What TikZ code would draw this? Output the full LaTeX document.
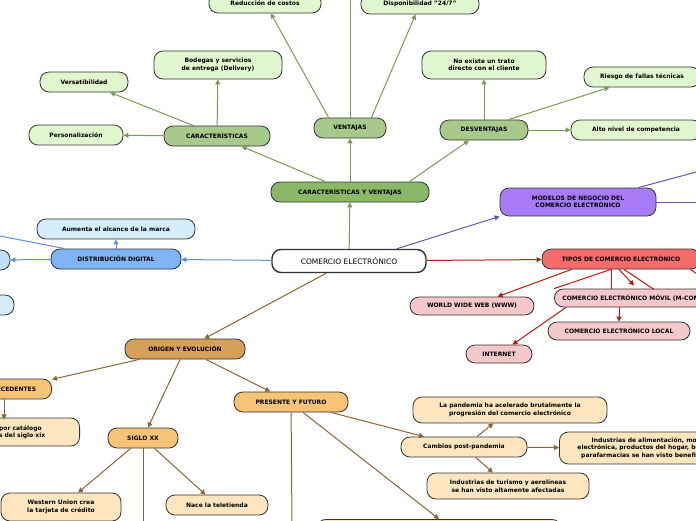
\documentclass[tikz,border=0pt]{standalone}
\usepackage{fontspec}
\setmainfont{DejaVu Sans}
\usetikzlibrary{arrows.meta}
\begin{document}
\begin{tikzpicture}[x=1pt,y=-1pt,
 n/.style={draw=black!80,line width=0.8pt,rounded corners=9pt,align=center,font=\fontsize{6}{7.5}\selectfont\bfseries,inner sep=0pt},
 g1/.style={n,fill={rgb,255:red,224;green,246;blue,207}},
 g2/.style={n,fill={rgb,255:red,168;green,201;blue,140}},
 g3/.style={n,fill={rgb,255:red,138;green,184;blue,102}},
 b1/.style={n,fill={rgb,255:red,213;green,236;blue,251}},
 b2/.style={n,fill={rgb,255:red,127;green,181;blue,245}},
 pu/.style={n,fill={rgb,255:red,167;green,123;blue,245}},
 r1/.style={n,fill={rgb,255:red,247;green,107;blue,107}},
 r2/.style={n,fill={rgb,255:red,244;green,200;blue,203}},
 o1/.style={n,fill={rgb,255:red,212;green,160;blue,90}},
 o2/.style={n,fill={rgb,255:red,247;green,196;blue,119}},
 o3/.style={n,fill={rgb,255:red,253;green,230;blue,191}},
 eg/.style={draw={rgb,255:red,122;green,154;blue,85},line width=1pt,-{Triangle[length=5pt,width=5pt]}},
 eb/.style={eg,draw={rgb,255:red,91;green,143;blue,220}},
 ep/.style={eg,draw={rgb,255:red,106;green,85;blue,176}},
 er/.style={eg,draw={rgb,255:red,192;green,24;blue,15}},
 eo/.style={eg,draw={rgb,255:red,138;green,101;blue,53}}]
\useasboundingbox (0,0) rectangle (696,520);
\clip (0,0) rectangle (696,520);
% green
\node[g1,minimum width=112pt,minimum height=20pt] (red) at (265,3) {Reducción de costos};
\node[g1,minimum width=118pt,minimum height=20pt] (disp) at (420,4) {Disponibilidad "24/7"};
\node[g1,minimum width=128pt,minimum height=28pt] (bod) at (218,65) {Bodegas y servicios\\de entrega (Delivery)};
\node[g1,minimum width=88pt,minimum height=20pt] (ver) at (84,82) {Versatibilidad};
\node[g1,minimum width=94pt,minimum height=20pt] (per) at (76,135) {Personalización};
\node[g2,minimum width=106pt,minimum height=20pt] (car) at (217,136) {CARACTERÍSTICAS};
\node[g2,minimum width=72pt,minimum height=20pt] (ven) at (350,128) {VENTAJAS};
\node[g2,minimum width=88pt,minimum height=20pt] (des) at (484,130) {DESVENTAJAS};
\node[g1,minimum width=124pt,minimum height=28pt] (noe) at (484,65) {No existe un trato\\directo con el cliente};
\node[g1,minimum width=116pt,minimum height=20pt] (rie) at (642,77) {Riesgo de fallas técnicas};
\node[g1,minimum width=130pt,minimum height=20pt] (alt) at (636,130) {Alto nivel de competencia};
\node[g3,minimum width=158pt,minimum height=20pt] (cyv) at (350,192) {CARACTERÍSTICAS Y VENTAJAS};
\coordinate (top) at (350,-2);
% center
\node[n,fill=white,line width=1.4pt,minimum width=154pt,minimum height=23pt,font=\fontsize{7.5}{9}\selectfont] (ce) at (349,261) {COMERCIO ELECTRÓNICO};
% blue
\node[b1,minimum width=158pt,minimum height=20pt] (aum) at (116,229) {Aumenta el alcance de la marca};
\node[b2,minimum width=130pt,minimum height=20pt] (dis) at (116,259) {DISTRIBUCIÓN DIGITAL};
\node[n,fill={rgb,255:red,190;green,222;blue,250},minimum width=40pt,minimum height=20pt] (bl1) at (-10,260) {};
\node[b1,minimum width=60pt,minimum height=20pt] (bl2) at (-16,305) {};
\coordinate (bl3) at (0,236);
% purple
\node[pu,minimum width=156pt,minimum height=28pt] (mod) at (578,202) {MODELOS DE NEGOCIO DEL\\COMERCIO ELECTRÓNICO};
\coordinate (p1) at (700,171); \coordinate (p2) at (700,202);
% red
\node[r1,minimum width=158pt,minimum height=20pt] (tip) at (621,259) {TIPOS DE COMERCIO ELECTRÓNICO};
\node[r2,minimum width=124pt,minimum height=18pt] (www) at (472,306) {WORLD WIDE WEB (WWW)};
\node[r2,minimum width=190pt,minimum height=18pt,anchor=west,align=left,inner xsep=8pt,text width=174pt] (mov) at (554,298) {COMERCIO ELECTRÓNICO MÓVIL (M-COMMERCE)};
\node[r2,minimum width=142pt,minimum height=18pt] (loc) at (619,331) {COMERCIO ELECTRÓNICO LOCAL};
\node[r2,minimum width=66pt,minimum height=18pt] (int) at (499,354) {INTERNET};
\coordinate (r1) at (700,276);
% brown
\node[o1,minimum width=120pt,minimum height=20pt] (ori) at (185,349) {ORIGEN Y EVOLUCIÓN};
\node[o2,minimum width=84pt,minimum height=20pt,anchor=east] (ant) at (52,389) {ANTECEDENTES};
\node[o3,minimum width=140pt,minimum height=28pt,anchor=east] (cat) at (80,432) {Venta por catálogo\\a finales del siglo xix};
\node[o2,minimum width=70pt,minimum height=20pt] (s20) at (143,438) {SIGLO XX};
\node[o3,minimum width=120pt,minimum height=28pt] (wu) at (61,507) {Western Union crea\\la tarjeta de crédito};
\node[o3,minimum width=102pt,minimum height=20pt] (tel) at (217,505) {Nace la teletienda};
\node[o2,minimum width=114pt,minimum height=20pt] (pyf) at (291,402) {PRESENTE Y FUTURO};
\node[o3,minimum width=194pt,minimum height=26pt] (pan) at (510,410) {La pandemia ha acelerado brutalmente la\\progresión del comercio electrónico};
\node[o3,minimum width=126pt,minimum height=20pt] (cam) at (464,447) {Cambios post-pandemia};
\node[o3,minimum width=180pt,minimum height=32pt,anchor=west] (ind) at (559,448) {Industrias de alimentación, moda,\\electrónica, productos del hogar, belleza y\\parafarmacias se han visto beneficiadas};
\node[o3,minimum width=162pt,minimum height=26pt] (tur) at (508,486) {Industrias de turismo y aerolíneas\\se han visto altamente afectadas};
\node[o3,minimum width=244pt,minimum height=20pt,anchor=north] (bot) at (439,519) {};
\coordinate (s20b) at (143,525); \coordinate (pyfb) at (292,525);
% edges
\draw[eg] (cyv) -- (car); \draw[eg] (cyv) -- (ven); \draw[eg] (cyv.north east)++(-20,0) -- (des);
\draw[eg] (ce) -- (cyv);
\draw[eg] (car) -- (per); \draw[eg] (car.north west)++(30,0) -- (ver); \draw[eg] (car) -- (bod);
\draw[eg] (ven.north west)++(15,0) -- (red); \draw[eg,-] (ven) -- (top); \draw[eg] (ven.north east)++(-15,0) -- (disp);
\draw[eg] (des) -- (noe); \draw[eg] (des.north east)++(-20,0) -- (rie); \draw[eg] (des) -- (alt);
\draw[eb] (ce) -- (dis); \draw[eb] (dis) -- (aum); \draw[eb] (dis) -- (bl1); \draw[eb,-] (dis.north west)++(14,0) -- (bl3);
\draw[ep] (ce.north east)++(-30,0) -- (mod.south west); \draw[ep,-] (mod.north east)++(-18,0) -- (p1); \draw[ep,-] (mod) -- (p2);
\draw[er] (ce) -- (tip);
\draw[er] (tip.south west)++(30,0) -- (www); \draw[er,-] (tip.south)++(-10,0) -- (mov.north west);
\draw[er,-] (tip.south)++(-10,0) -- ++(0,20); \draw[er] (tip.south)++(-2,0) -- ++(15,16);
\draw[er,-] (tip.south)++(3,0) -- ++(30,20);
\draw[er] (mov.south west)++(12,0) -- (int); \draw[er] (mov.south west)++(65,0) -- (loc);
\draw[er,-] (tip.south east)++(-10,0) -- (r1);
\draw[eo] (ce) -- (ori);
\draw[eo] (ori) -- (ant); \draw[eo] (ori) -- (s20); \draw[eo] (ori) -- (pyf);
\draw[eo] (ant.south east)++(-48,0) -- ++(0,20);
\draw[eo] (s20) -- (wu); \draw[eo] (s20) -- (tel); \draw[eo,-] (s20) -- (s20b);
\draw[eo] (pyf) -- (cam); \draw[eo,-] (pyf) -- (pyfb); \draw[eo] (pyf.south)++(12,0) -- (bot.north);
\draw[eo] (cam) -- (pan); \draw[eo] (cam) -- (ind); \draw[eo] (cam) -- (tur);
\end{tikzpicture}
\end{document}
